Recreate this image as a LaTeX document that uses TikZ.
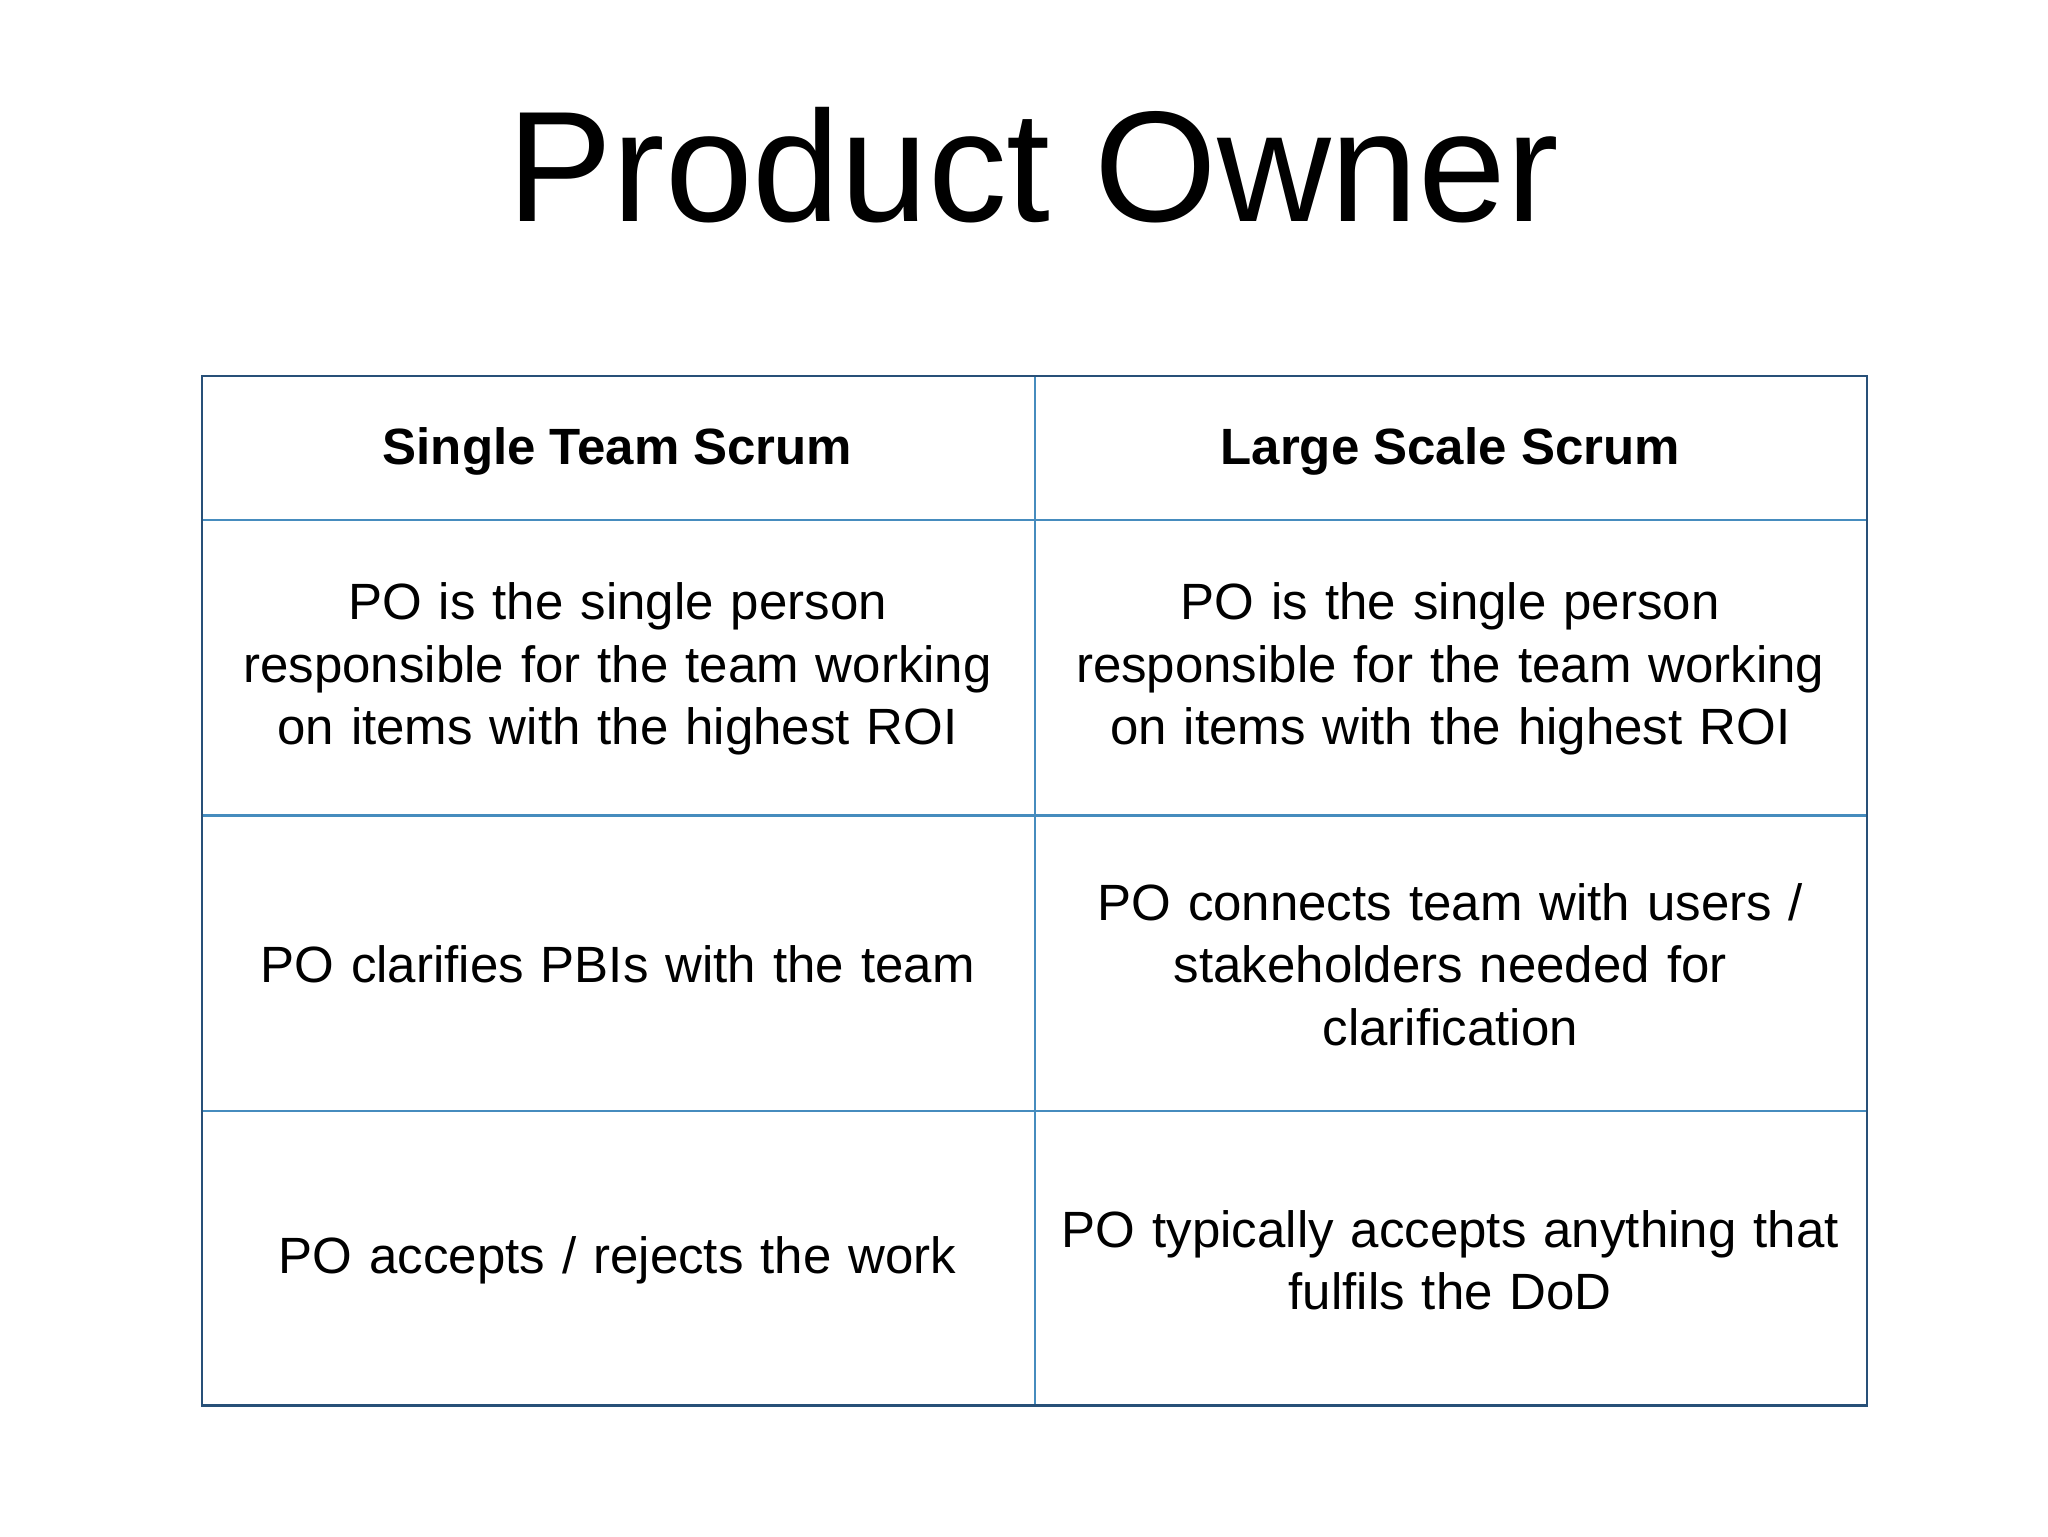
\documentclass[tikz,border=0pt]{standalone}
\usepackage{fontspec}
\setmainfont{Liberation Sans}
\begin{document}
\begin{tikzpicture}[x=0.02cm,y=-0.02cm,
 cell/.style={align=center,font=\fontsize{22}{27}\selectfont,text width=12cm},
 head/.style={align=center,font=\fontsize{22}{27}\selectfont\bfseries},
 grid/.style={draw={rgb,255:red,70;green,140;blue,190},line width=0.9pt}]
\useasboundingbox (0,0) rectangle (1552,1164);
\node (title) at (783,125) {\fontsize{68}{80}\selectfont Product Owner};
\draw[grid] (153,394) -- (1415,394) (153,618) -- (1415,618) (153,842) -- (1415,842) (784,285) -- (784,1065);
\draw[draw={rgb,255:red,40;green,80;blue,120},line width=1pt] (153,285) rectangle (1415,1065);
\node[head] (h1) at (468,342) {Single Team Scrum};
\node[head] (h2) at (1099,342) {Large Scale Scrum};
\node[cell] (a1) at (468,507) {PO is the single person\\responsible for the team working\\on items with the highest ROI};
\node[cell] (b1) at (1099,507) {PO is the single person\\responsible for the team working\\on items with the highest ROI};
\node[cell] (a2) at (468,731) {PO clarifies PBIs with the team};
\node[cell] (b2) at (1099,731) {PO connects team with users /\\stakeholders needed for\\clarification};
\node[cell] (a3) at (468,955) {PO accepts / rejects the work};
\node[cell] (b3) at (1099,955) {PO typically accepts anything that\\fulfils the DoD};
\end{tikzpicture}
\end{document}
